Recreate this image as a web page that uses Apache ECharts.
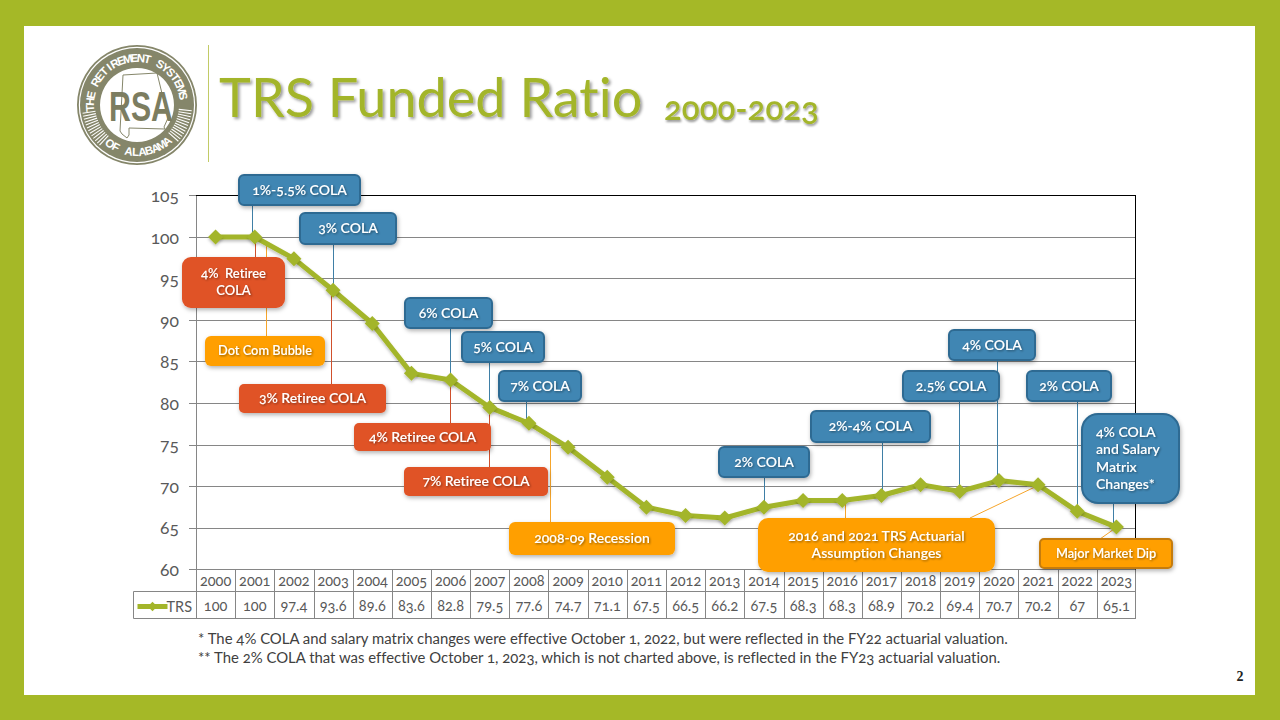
<!DOCTYPE html>
<html>
<head>
<meta charset="utf-8">
<title>TRS Funded Ratio</title>
<style>
  html, body { margin: 0; padding: 0; background: #A5B827; }
  #chart { width: 1280px; height: 720px; }
  /* Old-style figures for every label in the slide */
  svg text { font-variant-numeric: oldstyle-nums !important; font-variant-ligatures: none !important; font-feature-settings: "onum" 1, "liga" 0 !important; }
</style>
<script src="https://cdn.jsdelivr.net/npm/echarts@6/dist/echarts.min.js"></script>
</head>
<body>
<div id="chart"></div>
<script>
const years = ['2000','2001','2002','2003','2004','2005','2006','2007','2008','2009','2010','2011','2012','2013','2014','2015','2016','2017','2018','2019','2020','2021','2022','2023'];
const funded = [100,100,97.4,93.6,89.6,83.6,82.8,79.5,77.6,74.7,71.1,67.5,66.5,66.2,67.5,68.3,68.3,68.9,70.2,69.4,70.7,70.2,67,65.1];
const yTicks = { min: 60, max: 105, interval: 5 };
const footnotes = [
  '* The 4% COLA and salary matrix changes were effective October 1, 2022, but were reflected in the FY22 actuarial valuation.',
  '** The 2% COLA that was effective October 1, 2023, which is not charted above, is reflected in the FY23 actuarial valuation.'
];

const FONT = 'Lato, "Open Sans", sans-serif';
const NARROW = '"Liberation Sans Narrow", "Liberation Sans", sans-serif';
const OLIVE = '#A3B52A';
const BLUE = { fill: '#3F86B3', stroke: '#2E6A92', lead: '#3F7FA6' };
const RED = { fill: '#E05226', stroke: null, lead: '#D0502C' };
const AMBER = { fill: '#FF9F00', stroke: null, lead: '#F6A52B' };
const AMBER_EDGED = { fill: '#FF9F00', stroke: '#C57C0E', lead: '#F6A52B' };
const LOGO = '#85866A';

// Callout boxes: [x0, y0, x1, y1], corner radius, palette, text, font size, leader segments
const callouts = [
  { box: [239,175,360,205], r: 5, pal: BLUE, text: '1%-5.5% COLA', lead: [[252.5,205,252.5,237]] },
  { box: [300,213,396,244], r: 5, pal: BLUE, text: '3% COLA', lead: [[333.5,244,333.5,290]] },
  { box: [182,257,285,308], r: 9, pal: RED, text: '4%  Retiree\nCOLA', size: 13, lead: [[255.5,237,255.5,257]], align: 'center' },
  { box: [205,336,325,366], r: 6, pal: AMBER, text: 'Dot Com Bubble', size: 12.8, lead: [[266.5,241,266.5,336]] },
  { box: [239,384,386,413], r: 5, pal: RED, text: '3% Retiree COLA', lead: [[331.5,290,331.5,384]] },
  { box: [405,298,492,328], r: 5, pal: BLUE, text: '6% COLA', lead: [[450.5,328,450.5,380]] },
  { box: [354,423,491,451], r: 5, pal: RED, text: '4% Retiree COLA', lead: [[450.5,380,450.5,423]] },
  { box: [462,332,544,362], r: 5, pal: BLUE, text: '5% COLA', lead: [[489.5,362,489.5,408]] },
  { box: [404,467,548,496], r: 5, pal: RED, text: '7% Retiree COLA', lead: [[489.5,408,489.5,467]] },
  { box: [499,371,581,401], r: 5, pal: BLUE, text: '7% COLA', lead: [[526.5,401,526.5,420]] },
  { box: [509,522,675,555], r: 6, pal: AMBER, text: '2008-09 Recession', lead: [[550.5,434,550.5,522]] },
  { box: [719,447,809,477], r: 5, pal: BLUE, text: '2% COLA', lead: [[764.5,477,764.5,507]] },
  { box: [811,411,930,442], r: 5, pal: BLUE, text: '2%-4% COLA', lead: [[882.5,442,882.5,495]] },
  { box: [903,371,999,401], r: 5, pal: BLUE, text: '2.5% COLA', lead: [[959.5,401,959.5,492]] },
  { box: [949,330,1035,360], r: 5, pal: BLUE, text: '4% COLA', lead: [[997.5,360,997.5,480]] },
  { box: [1027,371,1111,401], r: 5, pal: BLUE, text: '2% COLA', lead: [[1077.5,401,1077.5,511]] },
  { box: [1082,414,1179,503], r: 16, pal: BLUE, text: '4% COLA\nand Salary\nMatrix\nChanges*', lead: [[1113.5,503,1113.5,527]], align: 'left' },
  { box: [1040,539,1172,568], r: 4, pal: AMBER_EDGED, text: 'Major Market Dip', size: 12.8, lead: [[1117,527,1100,539]] },
  { box: [758,518,995,572], r: 10, pal: AMBER, text: '2016 and 2021 TRS Actuarial\nAssumption Changes', lead: [[845.5,500,845.5,518],[1037,486,970,518]] }
];

const chart = echarts.init(document.getElementById('chart'), null, { renderer: 'svg', width: 1280, height: 720 });

chart.setOption({
  animation: false,
  backgroundColor: '#A5B827',
  textStyle: { fontFamily: FONT },
  grid: { left: 196, right: 144, top: 195.5, bottom: 150.5, containLabel: false },
  legend: {
    show: true, left: 135, top: 599, itemWidth: 30, itemHeight: 12, itemGap: 0,
    padding: 0, selectedMode: false,
    lineStyle: { width: 5 },
    textStyle: { color: '#595959', fontSize: 14.5, fontFamily: FONT, padding: [0,0,0,-6] },
    data: [{ name: 'TRS' }]
  },
  xAxis: {
    type: 'category', data: years, boundaryGap: true,
    axisLine: { show: false }, axisTick: { show: false },
    axisLabel: {
      interval: 0, margin: -2, fontFamily: FONT, color: '#595959',
      formatter: (v, i) => `{y|${v}}\n{v|${funded[i]}}`,
      rich: {
        y: { fontSize: 14.5, height: 25, color: '#595959', fontFamily: FONT, align: 'center' },
        v: { fontSize: 14.5, height: 25, color: '#595959', fontFamily: FONT, align: 'center' }
      }
    }
  },
  yAxis: {
    type: 'value', ...yTicks,
    axisLine: { show: true, lineStyle: { color: '#868686', width: 1 } },
    axisTick: { show: true, length: 7, lineStyle: { color: '#868686' } },
    axisLabel: { color: '#595959', fontSize: 17.5, margin: 17, fontFamily: FONT },
    splitLine: { show: true, lineStyle: { color: '#868686', width: 1 } }
  },
  series: [{
    name: 'TRS', type: 'line', data: funded, z: 5,
    symbol: 'diamond', symbolSize: 15, showSymbol: true,
    lineStyle: { color: OLIVE, width: 5, shadowColor: 'rgba(0,0,0,0.25)', shadowBlur: 3, shadowOffsetY: 2 },
    itemStyle: { color: OLIVE, shadowColor: 'rgba(0,0,0,0.25)', shadowBlur: 3, shadowOffsetY: 2 },
    emphasis: { disabled: true }
  }]
});

// Seal built from rings, radial ticks and letters set along the circle
function sealElements() {
  const cx = 137, cy = 105, els = [];
  const circle = (r, fill, z) => ({ type: 'circle', z, silent: true, shape: { cx, cy, r }, style: { fill } });
  els.push(circle(60, LOGO, 2), circle(58.2, '#fff', 2), circle(57, LOGO, 2), circle(37, '#fff', 3));
  const placeLetters = (str, startDeg, stepDeg, r, flip) => {
    [...str].forEach((ch, i) => {
      const deg = startDeg + stepDeg * i, a = deg * Math.PI / 180;
      els.push({
        type: 'text', z: 5, silent: true,
        x: cx + r * Math.cos(a), y: cy + r * Math.sin(a),
        rotation: flip ? -(a - Math.PI / 2) : -(a + Math.PI / 2),
        style: { text: ch, fill: '#fff', font: `bold 11.5px ${NARROW}`, align: 'center', verticalAlign: 'middle' }
      });
    });
  };
  placeLetters('THE RETIREMENT SYSTEMS', -184, 8.24, 47, false);
  placeLetters('OF ALABAMA', 125, -8.3, 47, true);
  // radial ticks filling the sides of the ring
  const tickRanges = [[6, 42], [133, 172]];
  tickRanges.forEach(([from, to]) => {
    for (let d = from; d <= to; d += 3.2) {
      const a = d * Math.PI / 180;
      els.push({
        type: 'line', z: 4, silent: true,
        shape: { x1: cx + 42 * Math.cos(a), y1: cy + 42 * Math.sin(a), x2: cx + 55 * Math.cos(a), y2: cy + 55 * Math.sin(a) },
        style: { stroke: '#fff', lineWidth: 1.1 }
      });
    }
  });
  // state outline behind the monogram
  els.push({
    type: 'polyline', z: 4, silent: true,
    shape: { points: [[123,75],[157,73],[168,118],[164,127],[165,129],[129,128],[129,135],[127,138],[122,134],[120,131],[123,75]] },
    style: { stroke: LOGO, lineWidth: 1, fill: 'none' }
  });
  // monogram, condensed to fit inside the inner disc
  els.push({
    type: 'text', z: 6, silent: true, x: 141, y: 107, scaleX: 0.72,
    style: { text: 'RSA', fill: '#7C7D60', font: `bold 42px ${NARROW}`, align: 'center', verticalAlign: 'middle' }
  });
  return els;
}

function calloutElements() {
  const els = [];
  callouts.forEach(c => {
    const [x0, y0, x1, y1] = c.box;
    c.lead.forEach(([a, b, d, e]) => els.push({
      type: 'line', z: 1, silent: true, shape: { x1: a, y1: b, x2: d, y2: e },
      style: { stroke: c.pal.lead, lineWidth: 1 }
    }));
    els.push({
      type: 'rect', z: 20, silent: true,
      shape: { x: x0, y: y0, width: x1 - x0, height: y1 - y0, r: c.r },
      style: {
        fill: c.pal.fill, stroke: c.pal.stroke || c.pal.fill, lineWidth: c.pal.stroke ? 2 : 0,
        shadowColor: 'rgba(0,0,0,0.3)', shadowBlur: 4, shadowOffsetX: 1, shadowOffsetY: 2
      }
    });
    const left = c.align === 'left';
    els.push({
      type: 'text', z: 21, silent: true,
      x: left ? x0 + 14 : (x0 + x1) / 2, y: (y0 + y1) / 2 - 1,
      style: {
        text: c.text, fill: '#fff', font: `600 ${c.size || 14}px ${FONT}`,
        align: left ? 'left' : 'center', verticalAlign: 'middle', lineHeight: 17.5,
        textShadowColor: 'rgba(0,0,0,0.45)', textShadowBlur: 2, textShadowOffsetX: 1, textShadowOffsetY: 1
      }
    });
  });
  return els;
}

function tableElements() {
  const edge = i => chart.convertToPixel({ xAxisIndex: 0 }, i) - chart.convertToPixel({ xAxisIndex: 0 }, 0) + 196;
  const stroke = { stroke: '#868686', lineWidth: 1 };
  const hline = (x1, x2, y) => ({ type: 'line', z: 1, silent: true, shape: { x1, y1: y, x2, y2: y }, style: stroke });
  const vline = (x, y1, y2) => ({ type: 'line', z: 1, silent: true, shape: { x1: x, y1, x2: x, y2 }, style: stroke });
  const els = [hline(133.5, 1136, 591.5), hline(133.5, 1136, 618.5), vline(133.5, 591.5, 618.5)];
  years.forEach((y, i) => els.push(vline(Math.round(edge(i)) + 0.5, 569.5, 618.5)));
  els.push(vline(1135.5, 569.5, 618.5));
  // dark top and right edges of the plot area
  els.push({ type: 'line', z: 1, silent: true, shape: { x1: 196, y1: 195.5, x2: 1136, y2: 195.5 }, style: { stroke: '#000', lineWidth: 1 } });
  els.push({ type: 'line', z: 1, silent: true, shape: { x1: 1135.5, y1: 195.5, x2: 1135.5, y2: 569.5 }, style: { stroke: '#000', lineWidth: 1 } });
  return els;
}

const frame = [
  { type: 'rect', z: -10, silent: true, shape: { x: 24, y: 26, width: 1231, height: 669 }, style: { fill: '#fff' } },
  { type: 'line', z: 1, silent: true, shape: { x1: 208.5, y1: 45, x2: 208.5, y2: 162 }, style: { stroke: '#C2CB66', lineWidth: 1 } },
  {
    type: 'text', z: 5, silent: true, x: 219, y: 96,
    style: { text: 'TRS Funded Ratio', fill: OLIVE, font: `400 54px ${FONT}`, align: 'left', verticalAlign: 'middle',
      textShadowColor: 'rgba(0,0,0,0.4)', textShadowBlur: 3, textShadowOffsetX: 2, textShadowOffsetY: 2 }
  },
  {
    type: 'text', z: 5, silent: true, x: 664, y: 107,
    style: { text: '2000-2023', fill: OLIVE, font: `600 33px ${FONT}`, align: 'left', verticalAlign: 'middle',
      textShadowColor: 'rgba(0,0,0,0.4)', textShadowBlur: 2, textShadowOffsetX: 1, textShadowOffsetY: 2 }
  },
  ...footnotes.map((t, i) => ({
    type: 'text', z: 5, silent: true, x: 198, y: 638 + i * 19,
    style: { text: t, fill: '#404040', font: `14.9px ${FONT}`, align: 'left', verticalAlign: 'middle' }
  })),
  {
    type: 'text', z: 5, silent: true, x: 1240, y: 676,
    style: { text: '2', fill: '#222', font: 'bold 14px "Liberation Serif", serif', align: 'center', verticalAlign: 'middle' }
  }
];

chart.setOption({
  graphic: { elements: [...frame, ...sealElements(), ...tableElements(), ...calloutElements()] }
});
</script>
</body>
</html>
